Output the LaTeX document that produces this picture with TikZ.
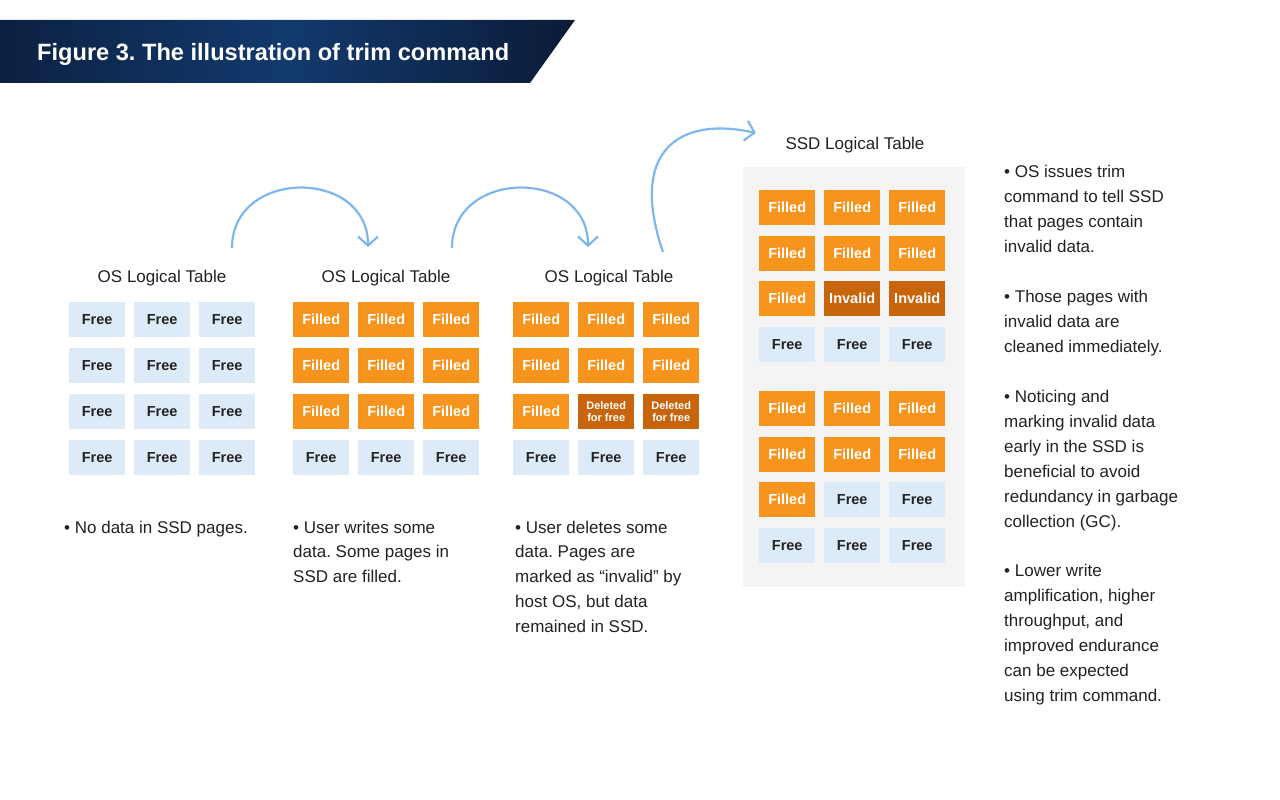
\documentclass[tikz,border=0pt]{standalone}
\usepackage{fontspec}
\setmainfont{Liberation Sans}
\usetikzlibrary{arrows.meta}
\definecolor{orng}{HTML}{F7941D}
\definecolor{dorng}{HTML}{C8650C}
\definecolor{freebg}{HTML}{DDEBF9}
\definecolor{ssdbg}{HTML}{F4F4F5}
\definecolor{arr}{HTML}{7DB7EC}
\definecolor{txt}{HTML}{222222}
\definecolor{navyA}{HTML}{0C2142}
\definecolor{navyB}{HTML}{123A6E}
\definecolor{navyC}{HTML}{0B1B36}
\newcommand\txtfil{Filled}
\newcommand\txtfre{Free}
\newcommand\txtdel{Deleted\\for free}
\newcommand\txtinv{Invalid}
\frenchspacing
\begin{document}
\begin{tikzpicture}[x=1pt,y=-1pt,
  cellbase/.style={anchor=north west, minimum width=56pt, minimum height=35pt, inner sep=0pt, font=\fontsize{14.5}{16}\selectfont\bfseries},
  fre/.style={cellbase, fill=freebg, text=txt},
  fil/.style={cellbase, fill=orng, text=white},
  del/.style={cellbase, fill=dorng, text=white, align=center, font=\fontsize{11}{11.5}\selectfont\bfseries},
  inv/.style={cellbase, fill=dorng, text=white},
  ttl/.style={anchor=base, inner sep=0pt, text=txt, font=\fontsize{17}{20}\selectfont},
  body/.style={anchor=base west, inner sep=0pt, text=txt, font=\fontsize{17}{20}\selectfont},
  flow/.style={draw=arr, line width=2.2pt, -{Straight Barb[length=9pt,width=20pt]}}
]
\fill[white] (0,0) rectangle (1280,800);
\useasboundingbox (0,0) rectangle (1280,800);

% banner
\shade[left color=navyA, right color=navyC, middle color=navyB] (0,20) -- (575,20) -- (530,83) -- (0,83) -- cycle;
\node[anchor=base west, inner sep=0pt, text=white, font=\fontsize{23.6}{28}\selectfont\bfseries] (title) at (37,60) {Figure 3. The illustration of trim command};

% table titles
\node[ttl] (t1) at (162,282) {OS Logical Table};
\node[ttl] (t2) at (386,282) {OS Logical Table};
\node[ttl] (t3) at (609,282) {OS Logical Table};
\node[ttl] (t4) at (855,149) {SSD Logical Table};

% table 1
\foreach \r/\yy in {1/302,2/348,3/394,4/440}{
  \foreach \c/\xx in {1/0,2/65,3/130}{
    \node[fre] (a\r\c) at (69+\xx,\yy) {Free};
  }
}
% table 2
\foreach \r/\yy/\ta/\tb/\tc in {1/302/fil/fil/fil,2/348/fil/fil/fil,3/394/fil/fil/fil,4/440/fre/fre/fre}{
  \node[\ta] (b\r1) at (293,\yy) {\csname txt\ta\endcsname};
  \node[\tb] (b\r2) at (358,\yy) {\csname txt\tb\endcsname};
  \node[\tc] (b\r3) at (423,\yy) {\csname txt\tc\endcsname};
}
% table 3
\foreach \r/\yy/\ta/\tb/\tc in {1/302/fil/fil/fil,2/348/fil/fil/fil,3/394/fil/del/del,4/440/fre/fre/fre}{
  \node[\ta] (c\r1) at (513,\yy) {\csname txt\ta\endcsname};
  \node[\tb] (c\r2) at (578,\yy) {\csname txt\tb\endcsname};
  \node[\tc] (c\r3) at (643,\yy) {\csname txt\tc\endcsname};
}
% SSD table
\node[fill=ssdbg, anchor=north west, minimum width=222pt, minimum height=420pt, inner sep=0pt] (ssdbox) at (743,167) {};
\foreach \r/\yy/\ta/\tb/\tc in {1/190/fil/fil/fil,2/236/fil/fil/fil,3/281/fil/inv/inv,4/327/fre/fre/fre,5/391/fil/fil/fil,6/437/fil/fil/fil,7/482/fil/fre/fre,8/528/fre/fre/fre}{
  \node[\ta] (d\r1) at (759,\yy) {\csname txt\ta\endcsname};
  \node[\tb] (d\r2) at (824,\yy) {\csname txt\tb\endcsname};
  \node[\tc] (d\r3) at (889,\yy) {\csname txt\tc\endcsname};
}

% arrows
\coordinate (s1) at (232,248); \coordinate (e1) at (368,247);
\coordinate (s2) at (452,248); \coordinate (e2) at (588,247);
\coordinate (s3) at (663,252); \coordinate (e3) at (756,133);
\draw[flow] (s1) .. controls (232,168) and (368,168) .. (e1);
\draw[flow] (s2) .. controls (452,168) and (588,168) .. (e2);
\draw[flow] (s3) .. controls (628,150) and (680,116) .. (e3);

% bottom texts
\node[body] (n1) at (64,533) {• No data in SSD pages.};
\foreach \i/\yy/\t in {1/533/{• User writes some},2/557/{data. Some pages in},3/582/{SSD are filled.}}{
  \node[body] (m\i) at (293,\yy) {\t};
}
\foreach \i/\yy/\t in {1/533/{• User deletes some},2/557/{data. Pages are},3/582/{marked as “invalid” by},4/607/{host OS, but data},5/632/{remained in SSD.}}{
  \node[body] (k\i) at (515,\yy) {\t};
}
% right texts
\foreach \i/\yy/\t in {1/177/{• OS issues trim},2/202/{command to tell SSD},3/227/{that pages contain},4/252/{invalid data.},
  5/302/{• Those pages with},6/327/{invalid data are},7/352/{cleaned immediately.},
  8/402/{• Noticing and},9/427/{marking invalid data},10/452/{early in the SSD is},11/477/{beneficial to avoid},12/502/{redundancy in garbage},13/527/{collection (GC).},
  14/576/{• Lower write},15/601/{amplification, higher},16/626/{throughput, and},17/651/{improved endurance},18/676/{can be expected},19/701/{using trim command.}}{
  \node[body] (r\i) at (1004,\yy) {\t};
}
\end{tikzpicture}
\end{document}
